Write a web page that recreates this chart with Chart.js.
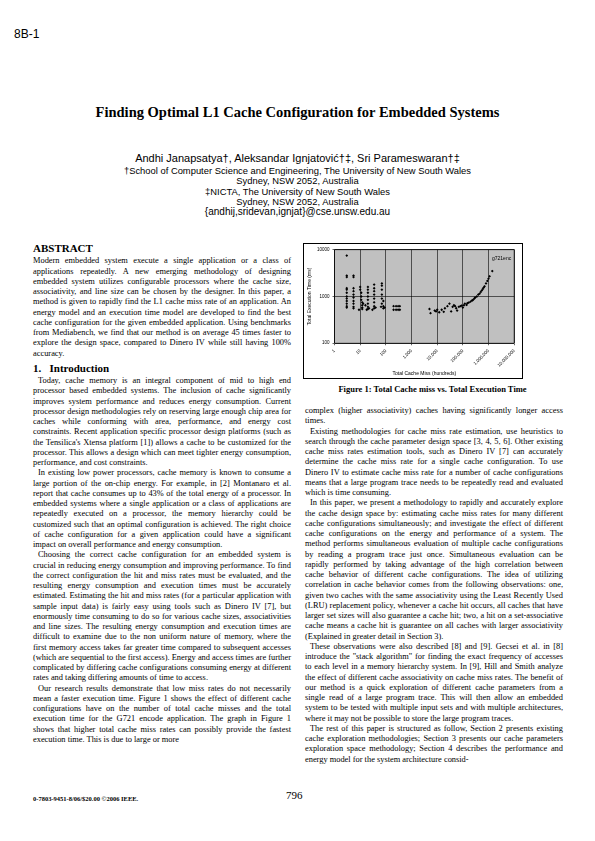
<!DOCTYPE html>
<html><head><meta charset="utf-8">
<script src="https://cdn.jsdelivr.net/npm/chart.js@4/dist/chart.umd.min.js"></script>
<style>
body{margin:0;width:595px;height:841px;position:relative;background:#fff;font-family:"Liberation Serif",serif;color:#000}
.a{position:absolute}
.col{position:absolute;font-size:8.4px;line-height:10.25px;text-align:justify;hyphens:auto}
.col p{margin:0;text-indent:5px}
h2{font-size:11px;margin:0 0 3px 0}
.sans{font-family:"Liberation Sans",sans-serif}
</style></head><body>
<div class="a sans" style="left:14px;top:27px;font-size:12px">8B-1</div>
<div class="a" style="left:0;width:595px;top:104px;text-align:center;font-size:14.5px;font-weight:bold">Finding Optimal L1 Cache Configuration for Embedded Systems</div>
<div class="a sans" style="left:0;width:595px;top:152px;text-align:center;font-size:11px;line-height:12.5px">Andhi Janapsatya†, Aleksandar Ignjatović†‡, Sri Parameswaran†‡</div>
<div class="a sans" style="left:0;width:595px;top:166px;text-align:center;font-size:9.4px;line-height:10.3px">†School of Computer Science and Engineering, The University of New South Wales<br>Sydney, NSW 2052, Australia<br>‡NICTA, The University of New South Wales<br>Sydney, NSW 2052, Australia<br><span style="font-size:10px">{andhij,sridevan,ignjat}@cse.unsw.edu.au</span></div>

<div class="col" style="left:33px;top:243px;width:258px">
<h2 style="font-size:11px">ABSTRACT</h2>
<div style="text-indent:0">Modern embedded system execute a single application or a class of applications repeatedly. A new emerging methodology of designing embedded system utilizes configurable processors where the cache size, associativity, and line size can be chosen by the designer. In this paper, a method is given to rapidly find the L1 cache miss rate of an application. An energy model and an execution time model are developed to find the best cache configuration for the given embedded application. Using benchmarks from Mediabench, we find that our method is on average 45 times faster to explore the design space, compared to Dinero IV while still having 100% accuracy.</div>
<h2 style="margin-top:4px;font-size:11px">1.&nbsp;&nbsp;&nbsp;Introduction</h2>
<p>Today, cache memory is an integral component of mid to high end processor based embedded systems. The inclusion of cache significantly improves system performance and reduces energy consumption. Current processor design methodologies rely on reserving large enough chip area for caches while conforming with area, performance, and energy cost constraints. Recent application specific processor design platforms (such as the Tensilica's Xtensa platform [1]) allows a cache to be customized for the processor. This allows a design which can meet tighter energy consumption, performance, and cost constraints.</p>
<p>In existing low power processors, cache memory is known to consume a large portion of the on-chip energy. For example, in [2] Montanaro et al. report that cache consumes up to 43% of the total energy of a processor. In embedded systems where a single application or a class of applications are repeatedly executed on a processor, the memory hierarchy could be customized such that an optimal configuration is achieved. The right choice of cache configuration for a given application could have a significant impact on overall performance and energy consumption.</p>
<p>Choosing the correct cache configuration for an embedded system is crucial in reducing energy consumption and improving performance. To find the correct configuration the hit and miss rates must be evaluated, and the resulting energy consumption and execution times must be accurately estimated. Estimating the hit and miss rates (for a particular application with sample input data) is fairly easy using tools such as Dinero IV [7], but enormously time consuming to do so for various cache sizes, associativities and line sizes. The resulting energy consumption and execution times are difficult to examine due to the non uniform nature of memory, where the first memory access takes far greater time compared to subsequent accesses (which are sequential to the first access). Energy and access times are further complicated by differing cache configurations consuming energy at different rates and taking differing amounts of time to access.</p>
<p>Our research results demonstrate that low miss rates do not necessarily mean a faster execution time. Figure 1 shows the effect of different cache configurations have on the number of total cache misses and the total execution time for the G721 encode application. The graph in Figure 1 shows that higher total cache miss rates can possibly provide the fastest execution time. This is due to large or more</p>
</div>

<div class="a" style="left:303px;top:243px;width:218px;height:134px;border:1px solid #000"></div>
<div class="a" style="left:304px;top:244px;width:217px;height:133px"><canvas id="c"></canvas></div>
<div class="a" style="left:300px;width:265px;top:384px;text-align:center;font-size:8.5px;font-weight:bold">Figure 1: Total Cache miss vs. Total Execution Time</div>

<div class="col" style="left:305px;top:406px;width:258px">
<div>complex (higher associativity) caches having significantly longer access times.</div>
<p>Existing methodologies for cache miss rate estimation, use heuristics to search through the cache parameter design space [3, 4, 5, 6]. Other existing cache miss rates estimation tools, such as Dinero IV [7] can accurately determine the cache miss rate for a single cache configuration. To use Dinero IV to estimate cache miss rate for a number of cache configurations means that a large program trace needs to be repeatedly read and evaluated which is time consuming.</p>
<p>In this paper, we present a methodology to rapidly and accurately explore the cache design space by: estimating cache miss rates for many different cache configurations simultaneously; and investigate the effect of different cache configurations on the energy and performance of a system. The method performs simultaneous evaluation of multiple cache configurations by reading a program trace just once. Simultaneous evaluation can be rapidly performed by taking advantage of the high correlation between cache behavior of different cache configurations. The idea of utilizing correlation in cache behavior comes from the following observations: one, given two caches with the same associativity using the Least Recently Used (LRU) replacement policy, whenever a cache hit occurs, all caches that have larger set sizes will also guarantee a cache hit; two, a hit on a set-associative cache means a cache hit is guarantee on all caches with larger associativity (Explained in greater detail in Section 3).</p>
<p>These observations were also described [8] and [9]. Gecsei et al. in [8] introduce the "stack algorithm" for finding the exact frequency of accesses to each level in a memory hierarchy system. In [9], Hill and Smith analyze the effect of different cache associativity on cache miss rates. The benefit of our method is a quick exploration of different cache parameters from a single read of a large program trace. This will then allow an embedded system to be tested with multiple input sets and with multiple architectures, where it may not be possible to store the large program traces.</p>
<p>The rest of this paper is structured as follow, Section 2 presents existing cache exploration methodologies; Section 3 presents our cache parameters exploration space methodology; Section 4 describes the performance and energy model for the system architecture consid-</p>
</div>

<div class="a" style="left:33px;top:795px;font-size:6.5px;font-weight:bold">0-7803-9451-8/06/$20.00 ©2006 IEEE.</div>
<div class="a" style="left:286px;top:789px;font-size:11px">796</div>

<script>
// g721enc: total cache misses (hundreds) vs total execution time (ms)
const missX = [
  3,3,3,3,3,3,3,3,3,3,3,3,
  5.5,5.5,5.5,5.5,5.5,5.5,5.5,5.5,5.5,5.5,
  10,10,11,11,11,12,12,12,12,9,13,
  20,20,20,20,20,20,20,20,18,22,16,
  35,35,35,35,35,35,35,35,30,40,
  70,70,70,70,70,70,80,80,80,65,90,
  200,200,250,250,300,300,350,350,
  5000,5500,8000,9000,10000,12000,15000,18000,20000,25000,30000,35000,40000,45000,50000,55000,
  60000,70000,80000,90000,100000,110000,120000,140000,150000,170000,200000,230000,250000,280000,
  300000,350000,400000,450000,500000,550000,600000,650000,700000,800000,900000,1000000,1100000,1400000
];
const execTime = [
  7500,2800,2600,1500,1400,1200,1000,900,800,700,620,580,
  2800,2600,1500,1300,1100,950,800,700,600,560,
  1600,1400,1200,1000,850,750,650,580,540,520,700,
  1600,1400,1200,1000,850,700,600,540,520,560,650,
  1800,1500,1300,1100,900,750,620,560,520,580,
  1900,1700,1400,1100,900,700,800,620,560,600,580,
  620,520,620,520,620,520,620,520,
  540,440,500,480,520,460,520,470,560,620,700,480,600,650,620,560,
  500,600,620,640,580,650,700,660,720,740,780,820,850,900,
  950,1000,1100,1150,1250,1350,1450,1550,1650,1900,2150,2400,2700,3500
];
const xTicks = [1,10,100,1000,10000,100000,1000000,10000000];
const yTicks = [100,1000,10000];

const bgPlugin = {
  id:'bg',
  beforeDraw(ch){
    const a = ch.chartArea, c = ch.ctx;
    c.save(); c.fillStyle = '#c0c0c0';
    c.fillRect(a.left,a.top,a.right-a.left,a.bottom-a.top);
    c.strokeStyle='#000'; c.lineWidth=0.8;
    c.strokeRect(a.left,a.top,a.right-a.left,a.bottom-a.top);
    c.restore();
  }
};

new Chart(document.getElementById('c'), {
  type:'scatter',
  data:{datasets:[{label:'g721enc',data:missX.map((x,i)=>({x:x,y:execTime[i]})),
    pointStyle:'rectRot',pointRadius:1.4,backgroundColor:'#000',borderColor:'#000',borderWidth:0}]},
  options:{
    animation:false,responsive:true,maintainAspectRatio:false,
    layout:{padding:{left:2,right:4,top:4,bottom:0}},
    plugins:{legend:{display:false},tooltip:{enabled:false},
      title:{display:false}},
    scales:{
      x:{type:'logarithmic',min:1,max:10000000,
        afterBuildTicks(ax){ax.ticks = xTicks.map(v=>({value:v}));},
        ticks:{font:{size:4.5,family:'Liberation Sans'},color:'#000',maxRotation:45,minRotation:45,autoSkip:false,
          callback:v=>v.toLocaleString('en-US')},
        grid:{color:'#000',lineWidth:0.6,tickLength:2},
        title:{display:true,text:'Total Cache Miss (hundreds)',font:{size:5,family:'Liberation Sans'},color:'#000',padding:0}},
      y:{type:'logarithmic',min:100,max:10000,
        afterBuildTicks(ax){ax.ticks = yTicks.map(v=>({value:v}));},
        ticks:{font:{size:4.5,family:'Liberation Sans'},color:'#000',autoSkip:false,callback:v=>String(v)},
        grid:{color:'#000',lineWidth:0.6,tickLength:2},
        title:{display:true,text:'Total Execution Time (ms)',font:{size:5,family:'Liberation Sans'},color:'#000',padding:1}}
    }
  },
  plugins:[bgPlugin,{
    id:'lbl',
    afterDraw(ch){
      const c=ch.ctx,a=ch.chartArea;
      c.save();c.font='5px Liberation Sans';c.textAlign='right';c.fillStyle='#000';
      c.fillText('g721enc',a.right-3,a.top+10);c.restore();
    }
  }]
});
</script>
</body></html>
